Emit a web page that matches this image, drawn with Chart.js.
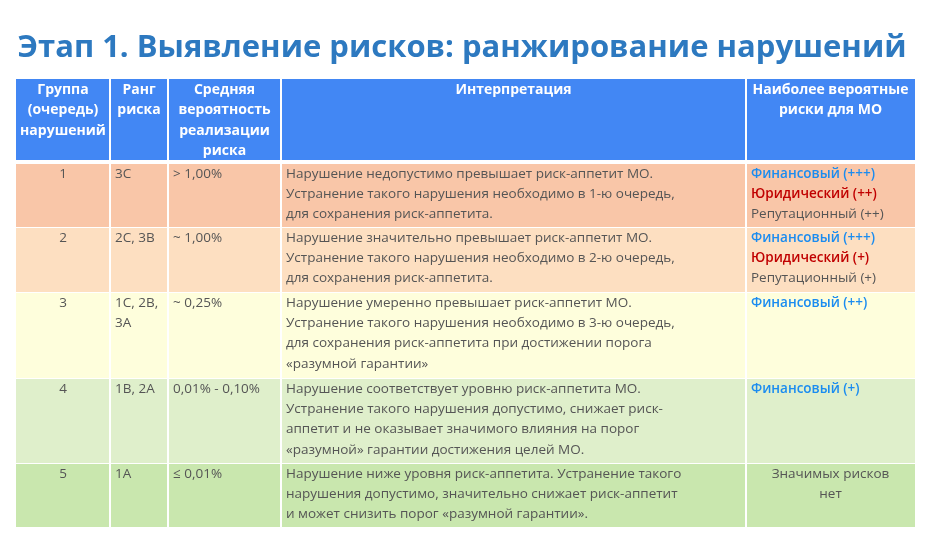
<!DOCTYPE html>
<html><head><meta charset="utf-8">
<script src="https://cdn.jsdelivr.net/npm/chart.js@4/dist/chart.umd.min.js"></script>
<style>html,body{margin:0;padding:0;background:#fff}</style>
</head><body>
<canvas id="c" width="948" height="560"></canvas>
<script>
const title = "Этап 1. Выявление рисков: ранжирование нарушений";
const headers = [["Группа","(очередь)","нарушений"],["Ранг","риска"],["Средняя","вероятность","реализации","риска"],["Интерпретация"],["Наиболее вероятные","риски для МО"]];
const groups = ["1","2","3","4","5"];
const ranks = [["3C"],["2C, 3B"],["1C, 2B,","3A"],["1B, 2A"],["1A"]];
const probs = ["> 1,00%","~ 1,00%","~ 0,25%","0,01% - 0,10%","≤ 0,01%"];
const interp = [
 ["Нарушение недопустимо превышает риск-аппетит МО.","Устранение такого нарушения необходимо в 1-ю очередь,","для сохранения риск-аппетита."],
 ["Нарушение значительно превышает риск-аппетит МО.","Устранение такого нарушения необходимо в 2-ю очередь,","для сохранения риск-аппетита."],
 ["Нарушение умеренно превышает риск-аппетит МО.","Устранение такого нарушения необходимо в 3-ю очередь,","для сохранения риск-аппетита при достижении порога","«разумной гарантии»"],
 ["Нарушение соответствует уровню риск-аппетита МО.","Устранение такого нарушения допустимо, снижает риск-","аппетит и не оказывает значимого влияния на порог","«разумной» гарантии достижения целей МО."],
 ["Нарушение ниже уровня риск-аппетита. Устранение такого","нарушения допустимо, значительно снижает риск-аппетит","и может снизить порог «разумной гарантии»."]
];
const risks = [
 [["Финансовый (+++)","fin"],["Юридический (++)","jur"],["Репутационный (++)","rep"]],
 [["Финансовый (+++)","fin"],["Юридический (+)","jur"],["Репутационный (+)","rep"]],
 [["Финансовый (++)","fin"]],
 [["Финансовый (+)","fin"]],
 [["Значимых рисков","none"],["нет","none"]]
];
// layout (pixels in scale units)
const colEdges = [16,110,168,281,746,915];
const rowEdges = [[79,160],[164,227],[228,292],[293,378],[379,463],[464,527]];
const rowColors = ["#F9C6A8","#FDDFC1","#FEFEDC","#DFEFCB","#C9E7AE"];
const riskColors = {fin:"#1A8CF0",jur:"#C00000",rep:"#555555",none:"#555555"};

const tablePlugin = {
  id:'table',
  afterDraw(chart){
    const ctx=chart.ctx, xs=chart.scales.x, ys=chart.scales.y;
    const X=v=>xs.getPixelForValue(v), Y=v=>ys.getPixelForValue(v);
    ctx.save();
    ctx.fillStyle="#2D79C0";
    ctx.font="bold 31px 'Open Sans', sans-serif";
    ctx.textBaseline="alphabetic"; ctx.textAlign="center";
    ctx.fillText(title,(X(38)+X(886))/2,Y(57));
    ctx.textBaseline="middle";
    // header
    for(let c=0;c<5;c++){
      const x0=X(colEdges[c]),x1=X(colEdges[c+1]);
      const y0=Y(rowEdges[0][0]),y1=Y(rowEdges[0][1]);
      ctx.fillStyle="#4287F4"; ctx.fillRect(x0,y0,x1-x0,y1-y0);
      ctx.fillStyle="#fff"; ctx.font="bold 14px 'Open Sans', sans-serif"; ctx.textAlign="center";
      headers[c].forEach((t,i)=>ctx.fillText(t,(x0+x1)/2,y0+11+i*20.5));
    }
    for(let r=0;r<5;r++){
      const y0=Y(rowEdges[r+1][0]),y1=Y(rowEdges[r+1][1]);
      const cells=[[[groups[r],"none"]],ranks[r].map(t=>[t,"none"]),[[probs[r],"none"]],interp[r].map(t=>[t,"none"]),risks[r]];
      for(let c=0;c<5;c++){
        const x0=X(colEdges[c]),x1=X(colEdges[c+1]);
        ctx.fillStyle=rowColors[r]; ctx.fillRect(x0,y0,x1-x0,y1-y0);
        const center = c===0 || (c===4 && r===4);
        ctx.textAlign=center?"center":"left";
        cells[c].forEach((p,i)=>{
          ctx.fillStyle=riskColors[p[1]];
          ctx.font=(c===4&&(p[1]==="fin"||p[1]==="jur")?"600 ":"")+"13.5px 'Open Sans', sans-serif";
          ctx.fillText(p[0],center?(x0+x1)/2:x0+5,y0+10+i*20.3);
        });
      }
    }
    // grid lines
    ctx.strokeStyle="#ffffff"; ctx.lineWidth=2;
    for(let c=1;c<5;c++){ctx.beginPath();ctx.moveTo(X(colEdges[c]),Y(79));ctx.lineTo(X(colEdges[c]),Y(527));ctx.stroke();}
    ctx.restore();
  }
};
new Chart(document.getElementById('c'),{
  type:'scatter',
  data:{datasets:[{data:[]}]},
  options:{responsive:false,animation:false,events:[],
    layout:{padding:0},
    plugins:{legend:{display:false},tooltip:{enabled:false}},
    scales:{x:{type:'linear',min:0,max:948,display:false},
            y:{type:'linear',min:0,max:560,reverse:true,display:false}}},
  plugins:[tablePlugin]
});
</script>
</body></html>
